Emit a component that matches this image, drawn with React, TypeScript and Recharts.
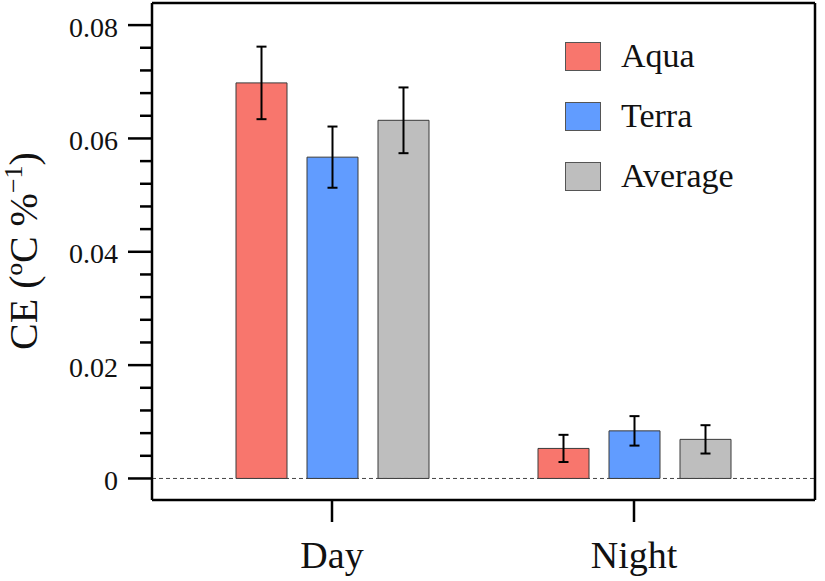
import { BarChart, Bar, XAxis, YAxis, ErrorBar, ReferenceLine, Legend } from "recharts";

const categories = ["Day", "Night"];
const seriesNames = ["Aqua", "Terra", "Average"];
const aqua = [0.0698, 0.0053];
const aquaErr = [0.0064, 0.0024];
const terra = [0.0567, 0.0084];
const terraErr = [0.0054, 0.0026];
const average = [0.0632, 0.0069];
const averageErr = [0.0058, 0.0025];

const yTicks = [
  0, 0.004, 0.008, 0.012, 0.016, 0.02, 0.024, 0.028, 0.032, 0.036, 0.04, 0.044, 0.048, 0.052,
  0.056, 0.06, 0.064, 0.068, 0.072, 0.076, 0.08,
];
const majorLabels = ["0", "0.02", "0.04", "0.06", "0.08"];

const data = categories.map((period, i) => ({
  period,
  aqua: aqua[i],
  aquaErr: aquaErr[i],
  terra: terra[i],
  terraErr: terraErr[i],
  average: average[i],
  averageErr: averageErr[i],
}));

const FONT = '"Liberation Serif", "Times New Roman", serif';
const AXIS = { stroke: "#000", strokeWidth: 2.5 };
const DOMAIN: [number, number] = [-0.0038, 0.0839];

function YTick(props: any) {
  const { x, y, index } = props;
  const major = index % 5 === 0;
  return (
    <g>
      <line x1={x - (major ? 24 : 12)} x2={x} y1={y} y2={y} stroke="#000" strokeWidth={2.5} />
      {major && (
        <text
          x={x - 34}
          y={y + 2}
          textAnchor="end"
          dominantBaseline="central"
          fontSize={28}
          fontFamily={FONT}
          fill="#111"
        >
          {majorLabels[index / 5]}
        </text>
      )}
    </g>
  );
}

function XTick(props: any) {
  const { x, y, payload } = props;
  return (
    <g>
      <line x1={x} x2={x} y1={y} y2={y + 22} stroke="#000" strokeWidth={2.5} />
      <text x={x} y={y + 68} textAnchor="middle" fontSize={38} fontFamily={FONT} fill="#111">
        {payload.value}
      </text>
    </g>
  );
}

function YLabel() {
  return (
    <text
      transform="translate(37, 251) rotate(-90)"
      textAnchor="middle"
      fontSize={40}
      fontFamily={FONT}
      fill="#111"
    >
      CE (ºC %<tspan fontSize={26} dy={-15}>−1</tspan>
      <tspan dy={15}>)</tspan>
    </text>
  );
}

// legend order follows seriesNames, not recharts' alphabetical sort
function LegendBox({ payload }: any) {
  const items = [...(payload || [])].sort(
    (a: any, b: any) => seriesNames.indexOf(a.value) - seriesNames.indexOf(b.value)
  );
  return (
    <div style={{ fontFamily: FONT }}>
      {items.map((p: any) => (
        <div key={p.value} style={{ display: "flex", alignItems: "center", height: 60 }}>
          <div
            style={{
              width: 34,
              height: 27,
              background: p.color,
              border: "1px solid #555",
              marginRight: 20,
            }}
          />
          <span style={{ fontSize: 34, color: "#111" }}>{p.value}</span>
        </div>
      ))}
    </div>
  );
}

export default function App() {
  return (
    <div style={{ position: "absolute", left: 0, top: 0, width: 825, height: 581, background: "#fff" }}>
      <BarChart
        width={825}
        height={581}
        data={data}
        margin={{ top: 2, right: 9, bottom: 0, left: 0 }}
        barGap={20}
      >
        <XAxis
          xAxisId="main"
          dataKey="period"
          height={81}
          padding={{ left: 29, right: 30 }}
          axisLine={AXIS}
          tickLine={false}
          tickSize={0}
          tickMargin={0}
          tick={<XTick />}
          interval={0}
        />
        <XAxis
          xAxisId="top"
          dataKey="period"
          orientation="top"
          height={1}
          axisLine={AXIS}
          tick={false}
          tickLine={false}
        />
        <YAxis
          yAxisId="main"
          width={152}
          domain={DOMAIN}
          allowDataOverflow
          ticks={yTicks}
          interval={0}
          axisLine={AXIS}
          tickLine={false}
          tickSize={0}
          tickMargin={0}
          tick={<YTick />}
          label={{ content: () => <YLabel /> }}
        />
        <YAxis
          yAxisId="right"
          orientation="right"
          width={1}
          domain={DOMAIN}
          allowDataOverflow
          axisLine={AXIS}
          tick={false}
          tickLine={false}
        />
        <ReferenceLine
          xAxisId="main"
          yAxisId="main"
          y={0}
          stroke="#444"
          strokeWidth={1}
          strokeDasharray="4 3"
        />
        <Legend
          layout="vertical"
          align="center"
          verticalAlign="middle"
          wrapperStyle={{ top: 26, left: 565, width: 230 }}
          content={<LegendBox />}
        />
        <Bar
          xAxisId="main"
          yAxisId="main"
          dataKey="aqua"
          name="Aqua"
          fill="#F8766D"
          stroke="#3a3a3a"
          strokeWidth={1}
          barSize={51}
          isAnimationActive={false}
        >
          <ErrorBar dataKey="aquaErr" width={5} stroke="#000" strokeWidth={2} />
        </Bar>
        <Bar
          xAxisId="main"
          yAxisId="main"
          dataKey="terra"
          name="Terra"
          fill="#619CFF"
          stroke="#3a3a3a"
          strokeWidth={1}
          barSize={51}
          isAnimationActive={false}
        >
          <ErrorBar dataKey="terraErr" width={5} stroke="#000" strokeWidth={2} />
        </Bar>
        <Bar
          xAxisId="main"
          yAxisId="main"
          dataKey="average"
          name="Average"
          fill="#BEBEBE"
          stroke="#3a3a3a"
          strokeWidth={1}
          barSize={51}
          isAnimationActive={false}
        >
          <ErrorBar dataKey="averageErr" width={5} stroke="#000" strokeWidth={2} />
        </Bar>
      </BarChart>
    </div>
  );
}
